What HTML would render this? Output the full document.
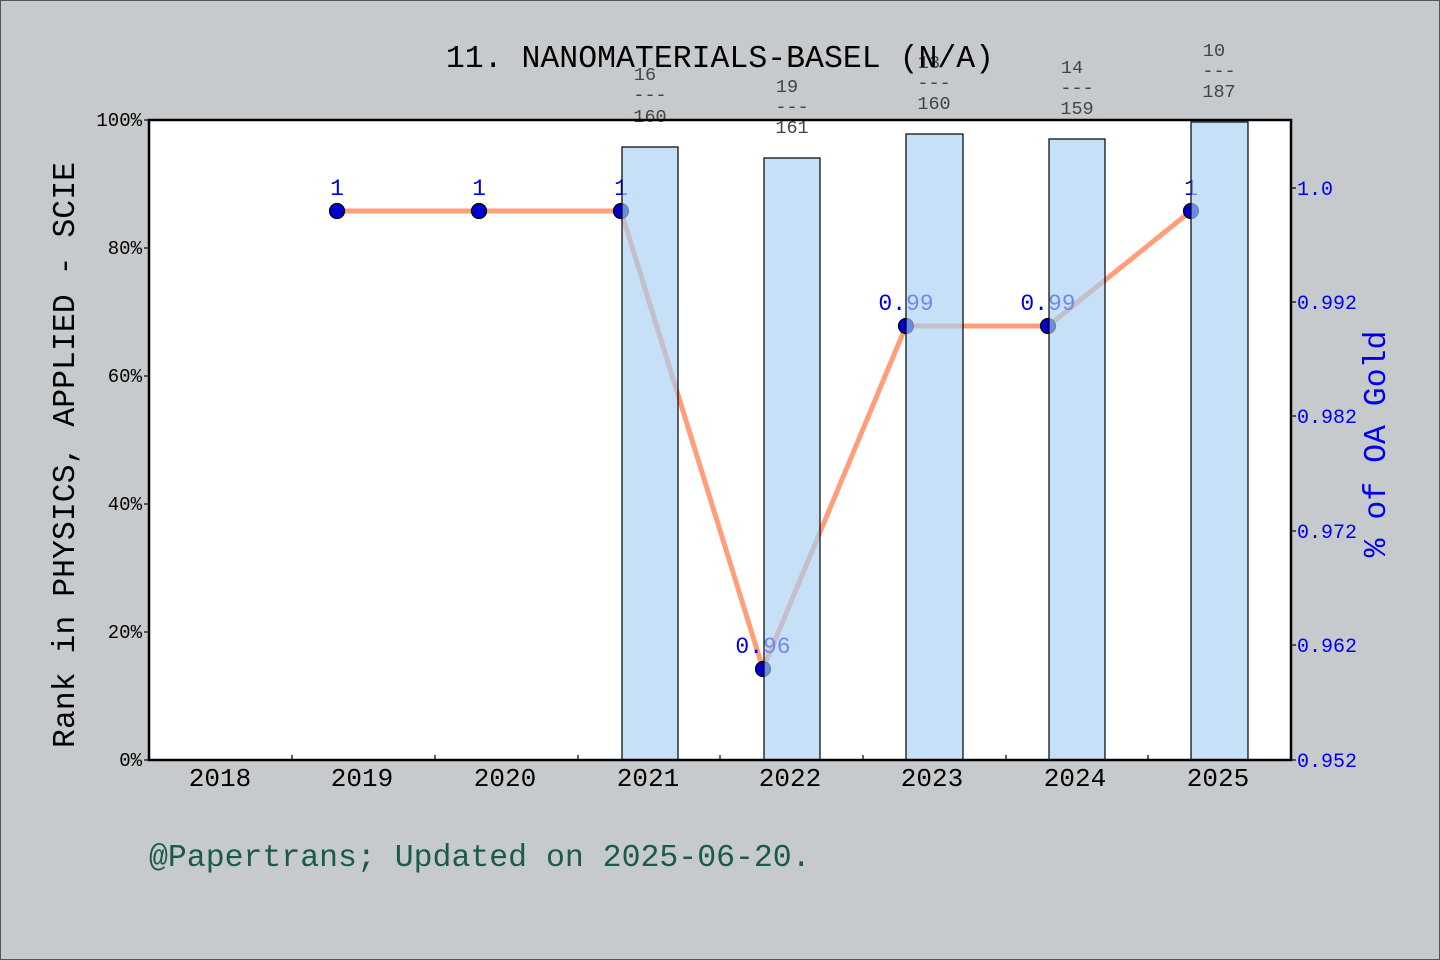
<!DOCTYPE html>
<html><head><meta charset="utf-8"><style>
html,body{margin:0;padding:0;background:#c6cacd;}
svg{display:block;}
text{font-family:"WenQuanYi Zen Hei Mono","Liberation Mono",monospace;}
</style></head><body>
<svg width="1440" height="960" viewBox="0 0 1440 960" xmlns="http://www.w3.org/2000/svg">
<rect x="0.5" y="0.5" width="1439" height="959" fill="#c6cacd" stroke="#555" stroke-width="1"/>
<rect x="149" y="120" width="1142" height="640" fill="#fff"/>
<polyline points="337,211 479,211 621,211 763,669 906,326 1048,326 1191,211" fill="none" stroke="#ff9e78" stroke-width="5" stroke-linejoin="round"/>
<g fill="#0000cc" stroke="#000" stroke-width="1.2">
<circle cx="337" cy="211" r="7.5"/><circle cx="479" cy="211" r="7.5"/><circle cx="621" cy="211" r="7.5"/><circle cx="763" cy="669" r="7.5"/><circle cx="906" cy="326" r="7.5"/><circle cx="1048" cy="326" r="7.5"/><circle cx="1191" cy="211" r="7.5"/>
</g>
<g fill="#0000dd" font-size="23" text-anchor="middle">
<text x="337" y="195">1</text><text x="479" y="195">1</text><text x="621" y="195">1</text>
<text x="763" y="653">0.96</text><text x="906" y="310">0.99</text><text x="1048" y="310">0.99</text><text x="1191" y="195">1</text>
</g>
<g fill="rgba(167,208,243,0.66)" stroke="#000" stroke-width="1.2">
<rect x="622" y="147" width="56" height="613"/>
<rect x="764" y="158" width="56" height="602"/>
<rect x="906" y="134" width="57" height="626"/>
<rect x="1049" y="139" width="56" height="621"/>
<rect x="1191" y="122" width="57" height="638"/>
</g>
<g fill="#444" font-size="18.5" text-anchor="middle">
<text x="645" y="80">16</text><text x="650" y="100">---</text><text x="650" y="122">160</text>
<text x="787" y="92">19</text><text x="792" y="112">---</text><text x="792" y="133">161</text>
<text x="929" y="68">13</text><text x="934" y="88">---</text><text x="934" y="109">160</text>
<text x="1072" y="73">14</text><text x="1077" y="93">---</text><text x="1077" y="114">159</text>
<text x="1214" y="56">10</text><text x="1219" y="76">---</text><text x="1219" y="97">187</text>
</g>
<text x="720" y="67" font-size="31.5" text-anchor="middle" fill="#000">11. NANOMATERIALS-BASEL (N/A)</text>
<rect x="149" y="120" width="1142" height="640" fill="none" stroke="#000" stroke-width="2.5"/>
<g stroke="#000" stroke-width="1.2">
<line x1="292" y1="755" x2="292" y2="760"/><line x1="435" y1="755" x2="435" y2="760"/><line x1="578" y1="755" x2="578" y2="760"/><line x1="720" y1="755" x2="720" y2="760"/><line x1="863" y1="755" x2="863" y2="760"/><line x1="1006" y1="755" x2="1006" y2="760"/><line x1="1148" y1="755" x2="1148" y2="760"/>
<line x1="144" y1="120" x2="149" y2="120"/><line x1="144" y1="248" x2="149" y2="248"/><line x1="144" y1="376" x2="149" y2="376"/><line x1="144" y1="504" x2="149" y2="504"/><line x1="144" y1="632" x2="149" y2="632"/><line x1="144" y1="760" x2="149" y2="760"/>
<line x1="1291" y1="188" x2="1296" y2="188"/><line x1="1291" y1="302" x2="1296" y2="302"/><line x1="1291" y1="416" x2="1296" y2="416"/><line x1="1291" y1="531" x2="1296" y2="531"/><line x1="1291" y1="645" x2="1296" y2="645"/><line x1="1291" y1="760" x2="1296" y2="760"/>
</g>
<g font-size="26" text-anchor="middle" fill="#000">
<text x="220" y="786">2018</text><text x="362" y="786">2019</text><text x="505" y="786">2020</text><text x="648" y="786">2021</text><text x="790" y="786">2022</text><text x="932" y="786">2023</text><text x="1075" y="786">2024</text><text x="1218" y="786">2025</text>
</g>
<g font-size="19" text-anchor="end" fill="#000">
<text x="142" y="126">100%</text><text x="142" y="254">80%</text><text x="142" y="382">60%</text><text x="142" y="510">40%</text><text x="142" y="638">20%</text><text x="142" y="766">0%</text>
</g>
<g font-size="20" fill="#0000ee">
<text x="1297" y="195">1.0</text><text x="1297" y="309">0.992</text><text x="1297" y="423">0.982</text><text x="1297" y="538">0.972</text><text x="1297" y="652">0.962</text><text x="1297" y="767">0.952</text>
</g>
<text transform="translate(74,455) rotate(-90)" font-size="31.5" text-anchor="middle" fill="#000">Rank in PHYSICS, APPLIED - SCIE</text>
<text transform="translate(1385,444) rotate(-90)" font-size="31.5" text-anchor="middle" fill="#0000ee">% of OA Gold</text>
<text x="149" y="866" font-size="31.5" fill="#1a5a4a">@Papertrans; Updated on 2025-06-20.</text>
</svg>
</body></html>
